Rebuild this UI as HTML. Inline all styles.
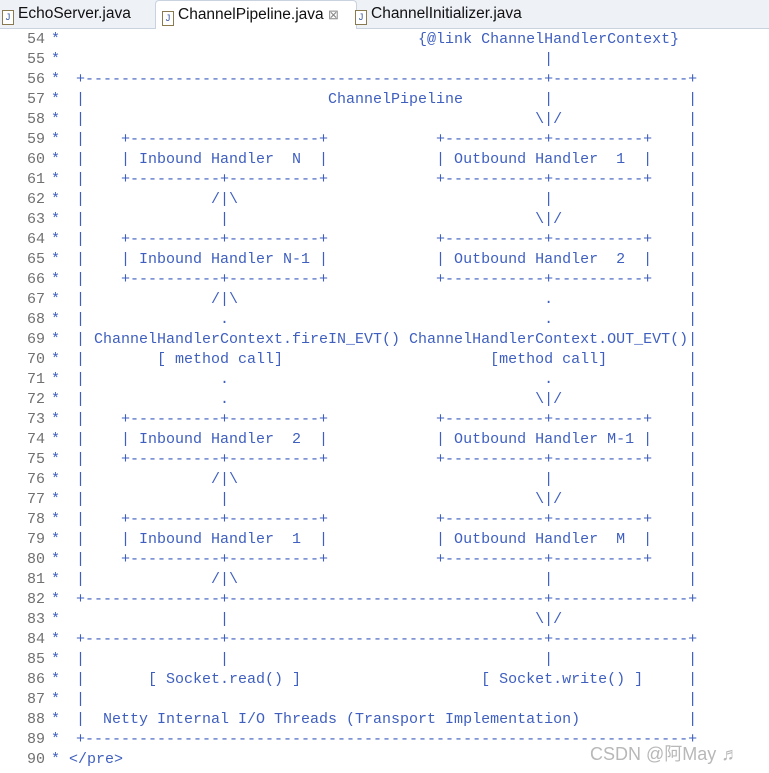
<!DOCTYPE html>
<html><head><meta charset="utf-8"><style>
body{margin:0;width:769px;height:773px;overflow:hidden;background:#fff;position:relative;font-family:"Liberation Sans",sans-serif}
.tabs{position:absolute;left:0;top:0;width:769px;height:28px;background:#eef1f6;border-bottom:1px solid #c9d3e0}
.tab{position:absolute;top:0;height:28px;font-size:15.5px;line-height:28px;color:#111}
.act{background:#fff;border:1px solid #c9d3e0;border-bottom:none;border-radius:4px 4px 0 0}
.ic{display:inline-block;width:10px;height:13px;border:1px solid #8a7a50;background:#fff;font-size:9px;line-height:13px;text-align:center;color:#3050a0;vertical-align:-2px;margin-right:4px}
.ln{position:absolute;left:0;width:45px;text-align:right;font-family:"Liberation Mono",monospace;font-size:15px;color:#707070}
pre{position:absolute;margin:0;font-family:"Liberation Mono",monospace;font-size:15px;line-height:20px;color:#3f5fbf}
.wm{position:absolute;left:590px;top:740px;font-size:18px;color:#b8b8b8;font-family:"Liberation Sans","Noto Sans CJK SC",sans-serif}
</style></head><body>
<div class="tabs">
<div class="tab" style="left:-2px;padding-left:4px"><span class="ic">J</span>EchoServer.java</div>
<div class="tab act" style="left:155px;width:194px;padding-left:6px"><span class="ic">J</span>ChannelPipeline.java <span style="color:#888;font-size:13px">⊠</span></div>
<div class="tab" style="left:355px"><span class="ic">J</span>ChannelInitializer.java</div>
</div>
<div class="ln" style="top:30px;line-height:20px;white-space:pre">54
55
56
57
58
59
60
61
62
63
64
65
66
67
68
69
70
71
72
73
74
75
76
77
78
79
80
81
82
83
84
85
86
87
88
89
90</div>
<pre style="left:51px;top:30px">*
*
*
*
*
*
*
*
*
*
*
*
*
*
*
*
*
*
*
*
*
*
*
*
*
*
*
*
*
*
*
*
*
*
*
*
* &lt;/pre&gt;</pre>
<pre style="left:76px;top:30px">                                      {@link ChannelHandlerContext}
                                                    |
+---------------------------------------------------+---------------+
|                           ChannelPipeline         |               |
|                                                  \|/              |
|    +---------------------+            +-----------+----------+    |
|    | Inbound Handler  N  |            | Outbound Handler  1  |    |
|    +----------+----------+            +-----------+----------+    |
|              /|\                                  |               |
|               |                                  \|/              |
|    +----------+----------+            +-----------+----------+    |
|    | Inbound Handler N-1 |            | Outbound Handler  2  |    |
|    +----------+----------+            +-----------+----------+    |
|              /|\                                  .               |
|               .                                   .               |
| ChannelHandlerContext.fireIN_EVT() ChannelHandlerContext.OUT_EVT()|
|        [ method call]                       [method call]         |
|               .                                   .               |
|               .                                  \|/              |
|    +----------+----------+            +-----------+----------+    |
|    | Inbound Handler  2  |            | Outbound Handler M-1 |    |
|    +----------+----------+            +-----------+----------+    |
|              /|\                                  |               |
|               |                                  \|/              |
|    +----------+----------+            +-----------+----------+    |
|    | Inbound Handler  1  |            | Outbound Handler  M  |    |
|    +----------+----------+            +-----------+----------+    |
|              /|\                                  |               |
+---------------+-----------------------------------+---------------+
                |                                  \|/
+---------------+-----------------------------------+---------------+
|               |                                   |               |
|       [ Socket.read() ]                    [ Socket.write() ]     |
|                                                                   |
|  Netty Internal I/O Threads (Transport Implementation)            |
+-------------------------------------------------------------------+</pre>
<div class="wm">CSDN @阿May ♬</div>
</body></html>
